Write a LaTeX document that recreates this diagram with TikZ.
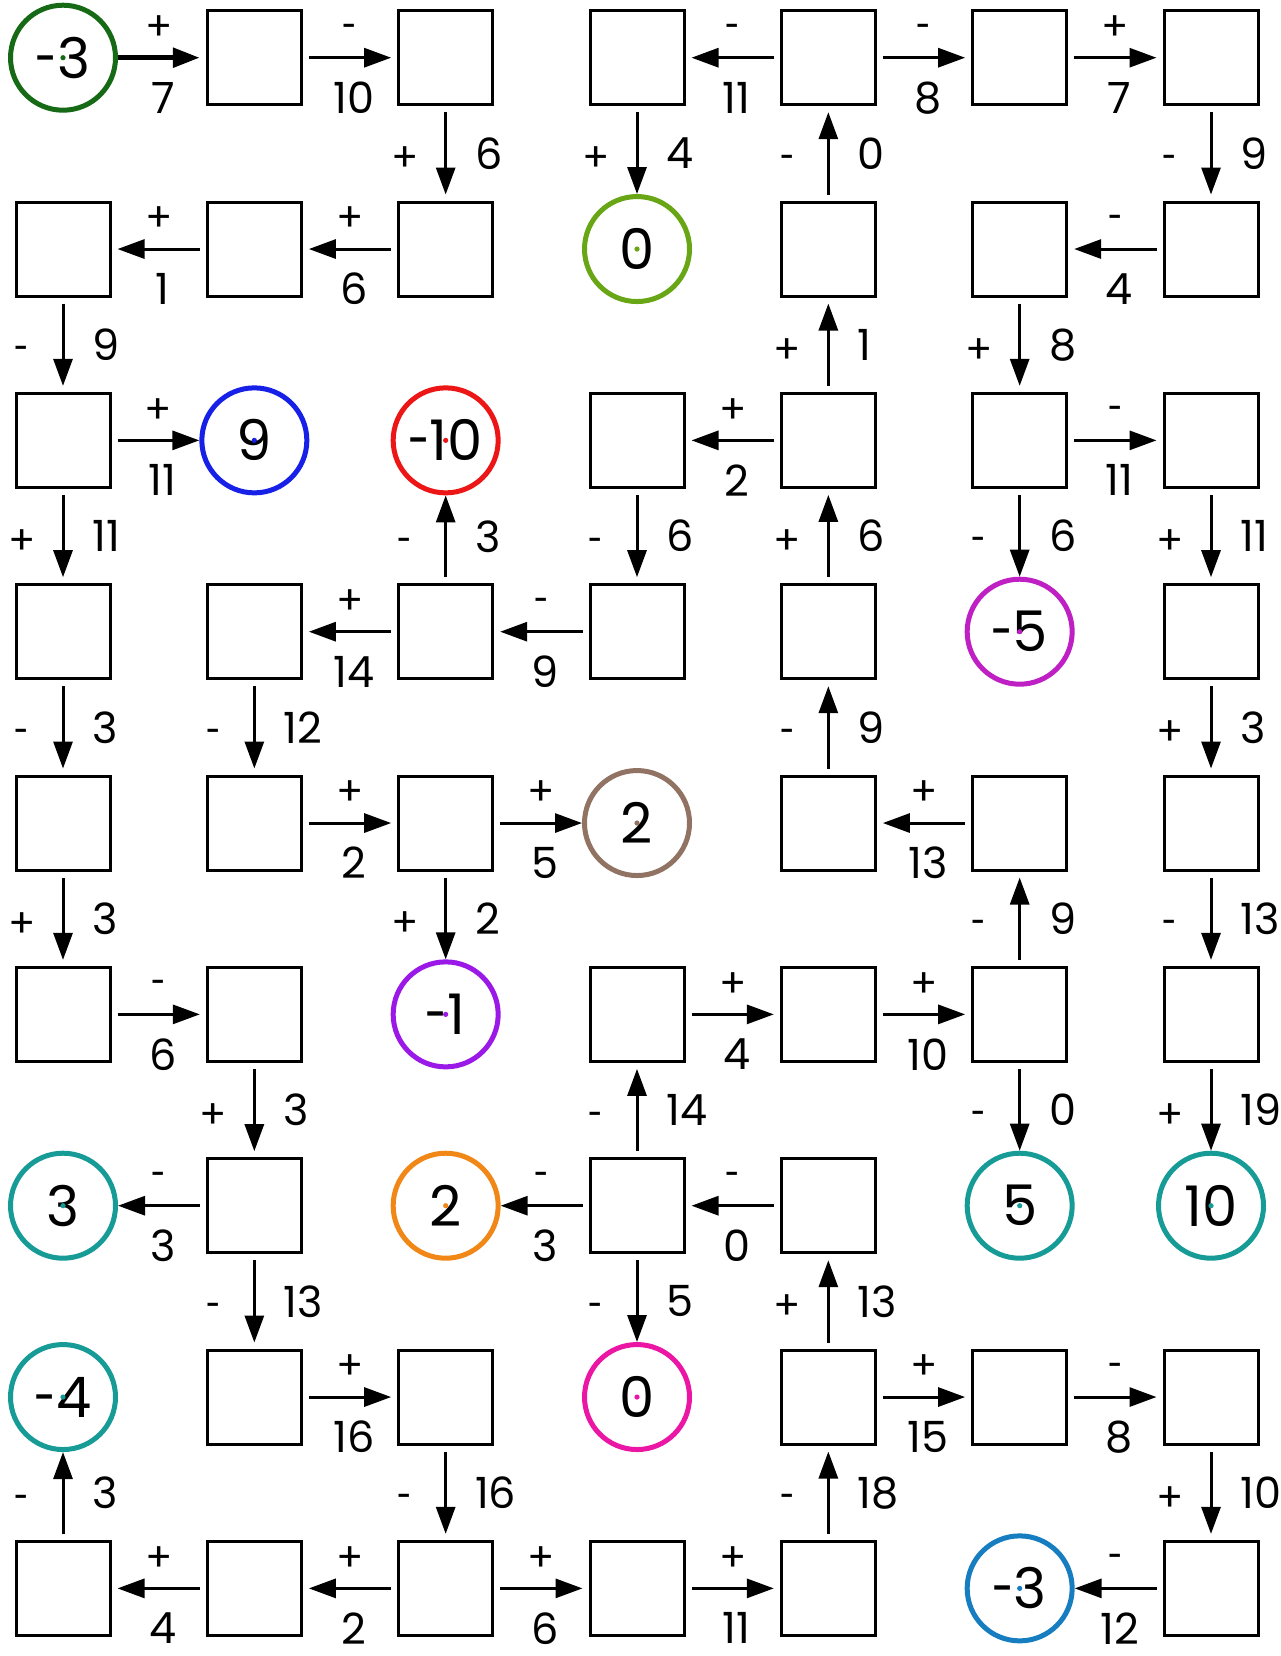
\documentclass[tikz,border=0pt]{standalone}
\usepackage{fontspec}
\setmainfont{Poppins}
\usetikzlibrary{arrows.meta}
\definecolor{cDkGreen}{RGB}{22,106,22}
\definecolor{cLtGreen}{RGB}{104,166,22}
\definecolor{cBlue}{RGB}{22,32,230}
\definecolor{cRed}{RGB}{236,22,22}
\definecolor{cMagenta}{RGB}{190,32,195}
\definecolor{cBrown}{RGB}{145,115,100}
\definecolor{cViolet}{RGB}{155,25,230}
\definecolor{cTeal}{RGB}{22,155,150}
\definecolor{cOrange}{RGB}{240,135,22}
\definecolor{cPink}{RGB}{236,22,165}
\definecolor{cSteel}{RGB}{22,125,192}
\tikzset{
 sq/.style={draw, line width=3pt, minimum size=94pt, inner sep=0pt, outer sep=7.5pt},
 circ/.style={circle, draw=#1, line width=5pt, minimum size=105pt, inner sep=0pt},
 ctext/.style={font=\fontsize{56}{60}\selectfont, inner sep=0pt},
 arr/.style={line width=3pt, -{Triangle[length=27pt,width=19pt]}},
 thickarr/.style={line width=5.5pt},
 sgn/.style={font=\fontsize{40}{48}\selectfont, inner sep=0pt},
 num/.style={font=\fontsize{43}{50}\selectfont, inner sep=0pt},
}
\newcommand\PL{\raisebox{-4.5pt}[\height][\depth]{+}}
\newcommand\MI{\raisebox{-8.5pt}[\height][\depth]{\scalebox{0.65}[1]{-}}}
\newcommand\CM{\scalebox{0.7}[1]{-}}
\newcommand\hlink[5][]{\draw[arr,#1] (#2) -- (#3) node[midway,yshift=34pt,sgn]{#4} node[midway,xshift=4pt,yshift=-40pt,num]{#5};}
\newcommand\vlink[4]{\draw[arr] (#1) -- (#2) node[midway,xshift=-41pt,yshift=-1.5pt,sgn]{#3} node[midway,xshift=28pt,anchor=west,num]{#4};}
\newcommand\numcirc[4]{\node[circ=#3] (#1) at (#2) {}; \node[ctext] at (#1) {#4}; \fill[#3] (#1) circle (2.6pt);}
\begin{document}
\begin{tikzpicture}[x=191.33pt,y=-191.33pt]
\fill[white] (0.6707,0.6984) rectangle (7.3607,9.3535);
\useasboundingbox (0.6707,0.6984) rectangle (7.3607,9.3535);
% boxes
\foreach \r/\c in {1/2,1/3,1/4,1/5,1/6,1/7,
 2/1,2/2,2/3,2/5,2/6,2/7,
 3/1,3/4,3/5,3/6,3/7,
 4/1,4/2,4/3,4/4,4/5,4/7,
 5/1,5/2,5/3,5/5,5/6,5/7,
 6/1,6/2,6/4,6/5,6/6,6/7,
 7/2,7/4,7/5,
 8/2,8/3,8/5,8/6,8/7,
 9/1,9/2,9/3,9/4,9/5,9/7}
 {\node[sq] (n\r\c) at (\c,\r) {};}
% circles
\numcirc{n11}{1,1}{cDkGreen}{\CM3}
\numcirc{n24}{4,2}{cLtGreen}{0}
\numcirc{n32}{2,3}{cBlue}{9}
\numcirc{n33}{3,3}{cRed}{\CM10}
\numcirc{n46}{6,4}{cMagenta}{\CM5}
\numcirc{n54}{4,5}{cBrown}{2}
\numcirc{n63}{3,6}{cViolet}{\CM1}
\numcirc{n71}{1,7}{cTeal}{3}
\numcirc{n73}{3,7}{cOrange}{2}
\numcirc{n76}{6,7}{cTeal}{5}
\numcirc{n77}{7,7}{cTeal}{10}
\numcirc{n81}{1,8}{cTeal}{\CM4}
\numcirc{n84}{4,8}{cPink}{0}
\numcirc{n96}{6,9}{cSteel}{\CM3}
% horizontal links
\hlink[thickarr]{n11}{n12}{\PL}{7}
\hlink{n12}{n13}{\MI}{10}
\hlink{n15}{n14}{\MI}{11}
\hlink{n15}{n16}{\MI}{8}
\hlink{n16}{n17}{\PL}{7}
\hlink{n22}{n21}{\PL}{1}
\hlink{n23}{n22}{\PL}{6}
\hlink{n27}{n26}{\MI}{4}
\hlink{n31}{n32}{\PL}{11}
\hlink{n35}{n34}{\PL}{2}
\hlink{n36}{n37}{\MI}{11}
\hlink{n43}{n42}{\PL}{14}
\hlink{n44}{n43}{\MI}{9}
\hlink{n52}{n53}{\PL}{2}
\hlink{n53}{n54}{\PL}{5}
\hlink{n56}{n55}{\PL}{13}
\hlink{n61}{n62}{\MI}{6}
\hlink{n64}{n65}{\PL}{4}
\hlink{n65}{n66}{\PL}{10}
\hlink{n72}{n71}{\MI}{3}
\hlink{n74}{n73}{\MI}{3}
\hlink{n75}{n74}{\MI}{0}
\hlink{n82}{n83}{\PL}{16}
\hlink{n85}{n86}{\PL}{15}
\hlink{n86}{n87}{\MI}{8}
\hlink{n92}{n91}{\PL}{4}
\hlink{n93}{n92}{\PL}{2}
\hlink{n93}{n94}{\PL}{6}
\hlink{n94}{n95}{\PL}{11}
\hlink{n97}{n96}{\MI}{12}
% vertical links
\vlink{n13}{n23}{\PL}{6}
\vlink{n14}{n24}{\PL}{4}
\vlink{n25}{n15}{\MI}{0}
\vlink{n17}{n27}{\MI}{9}
\vlink{n21}{n31}{\MI}{9}
\vlink{n35}{n25}{\PL}{1}
\vlink{n26}{n36}{\PL}{8}
\vlink{n31}{n41}{\PL}{11}
\vlink{n43}{n33}{\MI}{3}
\vlink{n34}{n44}{\MI}{6}
\vlink{n45}{n35}{\PL}{6}
\vlink{n36}{n46}{\MI}{6}
\vlink{n37}{n47}{\PL}{11}
\vlink{n41}{n51}{\MI}{3}
\vlink{n42}{n52}{\MI}{12}
\vlink{n55}{n45}{\MI}{9}
\vlink{n47}{n57}{\PL}{3}
\vlink{n51}{n61}{\PL}{3}
\vlink{n53}{n63}{\PL}{2}
\vlink{n66}{n56}{\MI}{9}
\vlink{n57}{n67}{\MI}{13}
\vlink{n62}{n72}{\PL}{3}
\vlink{n74}{n64}{\MI}{14}
\vlink{n66}{n76}{\MI}{0}
\vlink{n67}{n77}{\PL}{19}
\vlink{n72}{n82}{\MI}{13}
\vlink{n74}{n84}{\MI}{5}
\vlink{n85}{n75}{\PL}{13}
\vlink{n91}{n81}{\MI}{3}
\vlink{n83}{n93}{\MI}{16}
\vlink{n95}{n85}{\MI}{18}
\vlink{n87}{n97}{\PL}{10}
\end{tikzpicture}
\end{document}
